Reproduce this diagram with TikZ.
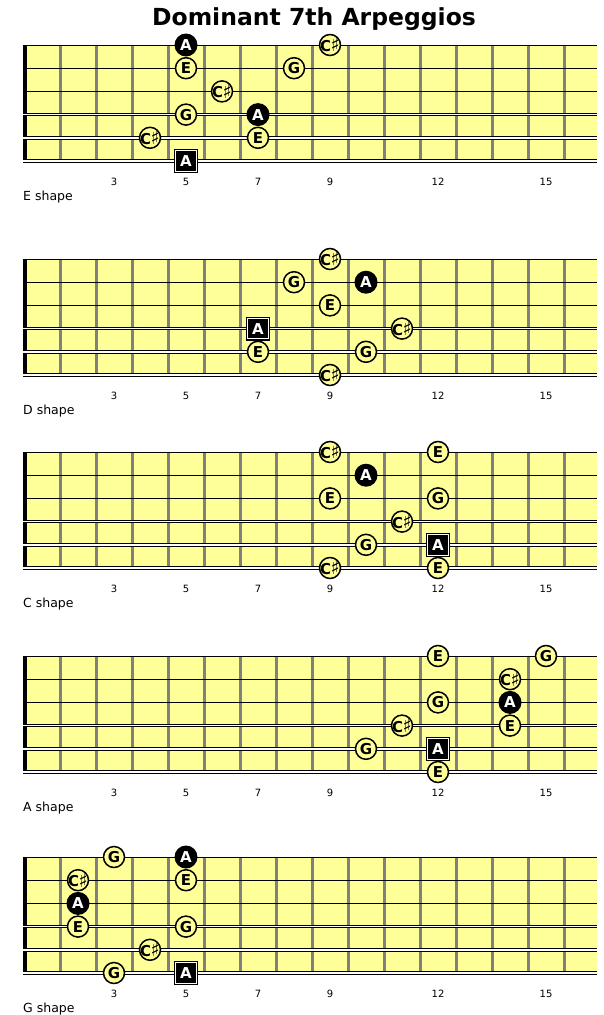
\documentclass[tikz,border=0pt]{standalone}
\usepackage{fontspec}
\setmainfont{DejaVu Sans}
\definecolor{boardyellow}{HTML}{FFFF99}
\definecolor{fretgray}{HTML}{808080}
\newcommand{\shp}{\kern-0.5pt\raisebox{-0.5pt}{\mdseries\fontsize{19}{19}\selectfont ♯}}
\newcommand{\csh}{\makebox[12pt][c]{C\shp}}
\tikzset{
  notebase/.style={circle, inner sep=0pt, font=\fontsize{15}{15}\selectfont\bfseries},
  yel/.style={notebase, draw=black, fill=boardyellow, line width=1.5pt, minimum size=21pt},
  blk/.style={notebase, fill=black, text=white, minimum size=23pt},
  rootsq/.style={rectangle, inner sep=0pt, fill=black, draw=black, double=white,
     line width=1.2pt, double distance=1.1pt, minimum size=20.5pt, text=white,
     font=\fontsize{15}{15}\selectfont\bfseries},
  fretnum/.style={anchor=base, inner sep=0pt, font=\fontsize{10}{10}\selectfont},
  shapelabel/.style={anchor=base west, inner sep=0pt, font=\fontsize{12.5}{12.5}\selectfont},
  wound/.style={line width=1pt, double=white, double distance=1.6pt},
}
% #1 id, #2 top y, #3 label
\newcommand{\drawboard}[3]{%
  \fill[boardyellow] (23,#2) rectangle (597,#2+116);
  \foreach \f in {1,...,15} \draw[fretgray, line width=3pt] (24+36*\f,#2) -- (24+36*\f,#2+116);
  \fill[black] (23,#2) rectangle (27,#2+115);
  \foreach \s in {0,1,2} \draw[line width=1pt] (23,#2+23.2*\s) -- (597,#2+23.2*\s);
  \foreach \s in {3,4,5} \draw[wound] (23,#2+23.2*\s) -- (597,#2+23.2*\s);
  \foreach \n in {3,5,7,9,12,15} \node[fretnum] (fn#1-\n) at (6+36*\n,#2+140.5) {\n};
  \node[shapelabel] (lab#1) at (23,#2+155) {#3};
}
% #1 id, #2 top, #3 string, #4 fret, #5 style, #6 text
\newcommand{\putnote}[6]{%
  \node[#5] (n#1-#3-#4) at (6+36*#4,#2+23.2*#3-23.2) {#6};
}
\begin{document}
\begin{tikzpicture}[x=1pt,y=-1pt]
\useasboundingbox (0,0) rectangle (603,1015);
\fill[white] (0,0) rectangle (603,1015);
\node[anchor=base, inner sep=0pt, font=\fontsize{23.5}{23.5}\selectfont\bfseries] (title) at (314,25) {Dominant 7th Arpeggios};

% E shape
\drawboard{a}{45}{E shape}
\putnote{a}{45}{1}{5}{blk}{A}
\putnote{a}{45}{1}{9}{yel}{\csh}
\putnote{a}{45}{2}{5}{yel}{E}
\putnote{a}{45}{2}{8}{yel}{G}
\putnote{a}{45}{3}{6}{yel}{\csh}
\putnote{a}{45}{4}{5}{yel}{G}
\putnote{a}{45}{4}{7}{blk}{A}
\putnote{a}{45}{5}{4}{yel}{\csh}
\putnote{a}{45}{5}{7}{yel}{E}
\putnote{a}{45}{6}{5}{rootsq}{A}

% D shape
\drawboard{b}{259}{D shape}
\putnote{b}{259}{1}{9}{yel}{\csh}
\putnote{b}{259}{2}{8}{yel}{G}
\putnote{b}{259}{2}{10}{blk}{A}
\putnote{b}{259}{3}{9}{yel}{E}
\putnote{b}{259}{4}{7}{rootsq}{A}
\putnote{b}{259}{4}{11}{yel}{\csh}
\putnote{b}{259}{5}{7}{yel}{E}
\putnote{b}{259}{5}{10}{yel}{G}
\putnote{b}{259}{6}{9}{yel}{\csh}

% C shape
\drawboard{c}{452}{C shape}
\putnote{c}{452}{1}{9}{yel}{\csh}
\putnote{c}{452}{1}{12}{yel}{E}
\putnote{c}{452}{2}{10}{blk}{A}
\putnote{c}{452}{3}{9}{yel}{E}
\putnote{c}{452}{3}{12}{yel}{G}
\putnote{c}{452}{4}{11}{yel}{\csh}
\putnote{c}{452}{5}{10}{yel}{G}
\putnote{c}{452}{5}{12}{rootsq}{A}
\putnote{c}{452}{6}{9}{yel}{\csh}
\putnote{c}{452}{6}{12}{yel}{E}

% A shape
\drawboard{d}{656}{A shape}
\putnote{d}{656}{1}{12}{yel}{E}
\putnote{d}{656}{1}{15}{yel}{G}
\putnote{d}{656}{2}{14}{yel}{\csh}
\putnote{d}{656}{3}{12}{yel}{G}
\putnote{d}{656}{3}{14}{blk}{A}
\putnote{d}{656}{4}{11}{yel}{\csh}
\putnote{d}{656}{4}{14}{yel}{E}
\putnote{d}{656}{5}{10}{yel}{G}
\putnote{d}{656}{5}{12}{rootsq}{A}
\putnote{d}{656}{6}{12}{yel}{E}

% G shape
\drawboard{e}{857}{G shape}
\putnote{e}{857}{1}{3}{yel}{G}
\putnote{e}{857}{1}{5}{blk}{A}
\putnote{e}{857}{2}{2}{yel}{\csh}
\putnote{e}{857}{2}{5}{yel}{E}
\putnote{e}{857}{3}{2}{blk}{A}
\putnote{e}{857}{4}{2}{yel}{E}
\putnote{e}{857}{4}{5}{yel}{G}
\putnote{e}{857}{5}{4}{yel}{\csh}
\putnote{e}{857}{6}{3}{yel}{G}
\putnote{e}{857}{6}{5}{rootsq}{A}
\end{tikzpicture}
\end{document}
